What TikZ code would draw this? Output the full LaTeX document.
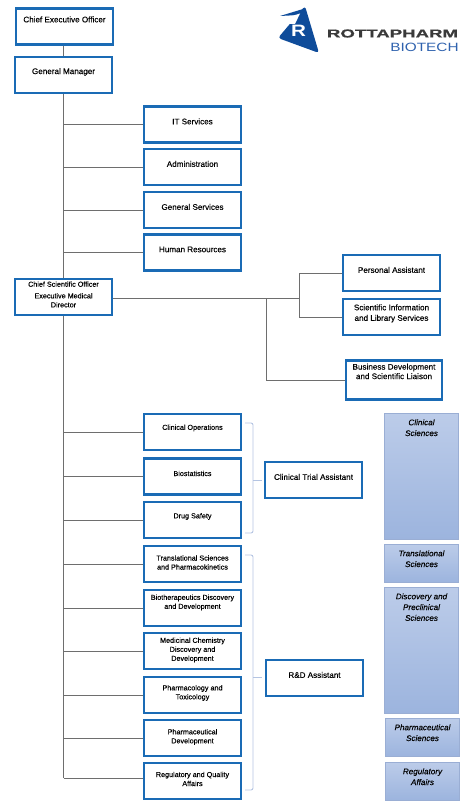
\documentclass[tikz,border=0pt]{standalone}
\usepackage{fontspec}
\setmainfont{Liberation Sans}[FakeBold=0.2]
\newfontfamily\panelfont{Liberation Sans}[FakeBold=0.08]
\newfontfamily\logofont{Liberation Sans}
\newfontfamily\logoheavy{Liberation Sans}[FakeBold=0.7]
\usepackage{graphicx}
\definecolor{boxblue}{HTML}{1A6BB5}
\definecolor{linegray}{HTML}{6E6E6E}
\definecolor{bracegray}{HTML}{B4C4E2}
\definecolor{paneltop}{HTML}{BCCCE9}
\definecolor{panelbot}{HTML}{9CB4DE}
\definecolor{panelline}{HTML}{9AAED4}
\definecolor{logoblue}{HTML}{0F4C9A}
\definecolor{logotext}{HTML}{2F62AE}
\definecolor{logogray}{HTML}{3A3A3A}
\tikzset{
  chartbox/.style={draw=boxblue, line width=2.1pt, fill=white, minimum width=96.5pt, minimum height=36pt, inner sep=0pt},
  orgbox/.style 2 args={chartbox, label={[boxtext, yshift=-#1pt]north:#2}},
  bigbox/.style 2 args={chartbox, label={[boxtext, font=\fontsize{8.1}{10.5}\selectfont, yshift=-#1pt]north:#2}},
  boxtext/.style={anchor=center, align=center, inner sep=0pt, font=\fontsize{7.2}{9}\selectfont, text=black},
  orgline/.style={draw=linegray, line width=0.9pt},
  trunk/.style={draw=linegray, line width=1.4pt},
  bracket/.style={draw=bracegray, line width=0.9pt, rounded corners=2pt},
  panel/.style 2 args={draw=panelline, line width=0.7pt, top color=paneltop, bottom color=panelbot, minimum width=74pt, inner sep=0pt,
    label={[paneltext, yshift=-#1pt]north:#2}},
  paneltext/.style={anchor=north, align=center, inner sep=0pt, font=\panelfont\fontsize{8.1}{10.8}\selectfont\itshape, text=black},
}
\begin{document}
\begin{tikzpicture}[x=1pt,y=-1pt]
\useasboundingbox (0,0) rectangle (474,808);
\coordinate (trunkend) at (63.5,778);
\coordinate (staffturn) at (299,298);
\coordinate (bizturn) at (266,298);

% top of the chart
\node[bigbox={12}{Chief Executive Officer}] (ceo) at (64.5,26.5) {};
\node[bigbox={16}{General Manager}] (gm) at (63.5,75) {};
\node[bigbox={16}{IT Services}] (its) at (192.5,124.5) {};
\node[bigbox={16}{Administration}] (admin) at (192.5,167) {};
\node[bigbox={16}{General Services}] (gens) at (192.5,210) {};
\node[bigbox={16}{Human Resources}] (hr) at (192.5,252.5) {};
\node[orgbox={16.5}{Chief Scientific Officer\\[2.6pt]Executive Medical\\Director}] (cso) at (63.5,297) {};

% staff of the CSO
\node[bigbox={16}{Personal Assistant}] (pa) at (391.5,273) {};
\node[bigbox={15.5}{Scientific Information\\and Library Services}] (lib) at (391.5,317) {};
\node[bigbox={12}{Business Development\\[-1pt]and Scientific Liaison}, minimum height=39pt] (biz) at (394,380) {};

% clinical group
\node[orgbox={15}{Clinical Operations}] (clinops) at (192.5,432) {};
\node[orgbox={16}{Biostatistics}] (biostat) at (192.5,476.5) {};
\node[orgbox={15.5}{Drug Safety}] (drug) at (192.5,520) {};

% research group
\node[orgbox={17.5}{Translational Sciences\\and Pharmacokinetics}] (trans) at (192.5,564) {};
\node[orgbox={13.5}{Biotherapeutics Discovery\\and Development}] (biother) at (192.5,608) {};
\node[orgbox={18}{Medicinal Chemistry\\Discovery and\\Development}] (medchem) at (192.5,651) {};
\node[orgbox={17}{Pharmacology and\\Toxicology}] (pharmtox) at (192.5,695) {};
\node[orgbox={18}{Pharmaceutical\\Development}] (pharmdev) at (192.5,738) {};
\node[orgbox={17}{Regulatory and Quality\\Affairs}] (regqa) at (192.5,781) {};

\node[bigbox={16}{Clinical Trial Assistant}] (cta) at (313.5,480) {};
\node[bigbox={16}{R\&D Assistant}] (rda) at (314.5,678) {};

% lines
\draw[orgline] (ceo.south -| gm.south) -- (gm.north);
\draw[trunk] (gm.south) -- (cso.north);
\draw[trunk] (cso.south) -- (trunkend);
\foreach \nd in {its,admin,gens,hr,clinops,biostat,drug,trans,biother,medchem,pharmtox,pharmdev}
  \draw[orgline] (trunkend |- \nd.west) -- (\nd.west);
\draw[orgline] (trunkend) -- (trunkend -| regqa.west);
\draw[orgline] (cso.east |- staffturn) -- (staffturn);
\draw[orgline] (pa.west) -| (staffturn);
\draw[orgline] (lib.west) -| (staffturn);
\draw[orgline] (biz.west) -| (bizturn);

% brackets
\draw[bracket] (245,423) -- (253,423) -- (253,533) -- (245,533);
\draw[bracegray, line width=0.9pt] (253,480) -- (262,480);
\draw[bracket] (245,555) -- (253,555) -- (253,790) -- (245,790);
\draw[bracegray, line width=0.9pt] (253,677) -- (262,677);

% science areas
\node[panel={6.5}{Clinical\\Sciences}, minimum height=126pt] (clinsci) at (421.5,476) {};
\node[panel={6.5}{Translational\\Sciences}, minimum height=38pt] (transsci) at (421.5,563) {};
\node[panel={6.5}{Discovery and\\Preclinical\\Sciences}, minimum height=126pt] (discsci) at (421.5,650) {};
\node[panel={6.5}{Pharmaceutical\\Sciences}, minimum height=38pt] (pharmsci) at (422.5,737) {};
\node[panel={6.5}{Regulatory\\Affairs}, minimum height=38pt] (regsci) at (422.5,781) {};

% logo
\fill[logoblue, rounded corners=3pt] (305,6) -- (278,38) -- (319,53) -- cycle;
\fill[logoblue] (280,16) -- (303,9) -- (299,15) -- cycle;
\fill[white] (287,17.5) -- (300,13.5) -- (295,24) -- (290,24) -- cycle;
\node[inner sep=0pt, text=white, font=\logofont\fontsize{16.5}{17}\bfseries\selectfont] (logor) at (298.5,31) {\scalebox{1.25}[1]{R}};
\node[inner sep=0pt, text=logogray, font=\logoheavy\fontsize{11.5}{12}\bfseries\selectfont] (rotta) at (392.5,33.5) {\scalebox{1.62}[1]{ROTTAPHARM}};
\node[inner sep=0pt, text=logotext, font=\logofont\fontsize{12}{12}\selectfont] (biotech) at (424.5,47) {\scalebox{1.28}[1]{BIOTECH}};
\end{tikzpicture}
\end{document}
